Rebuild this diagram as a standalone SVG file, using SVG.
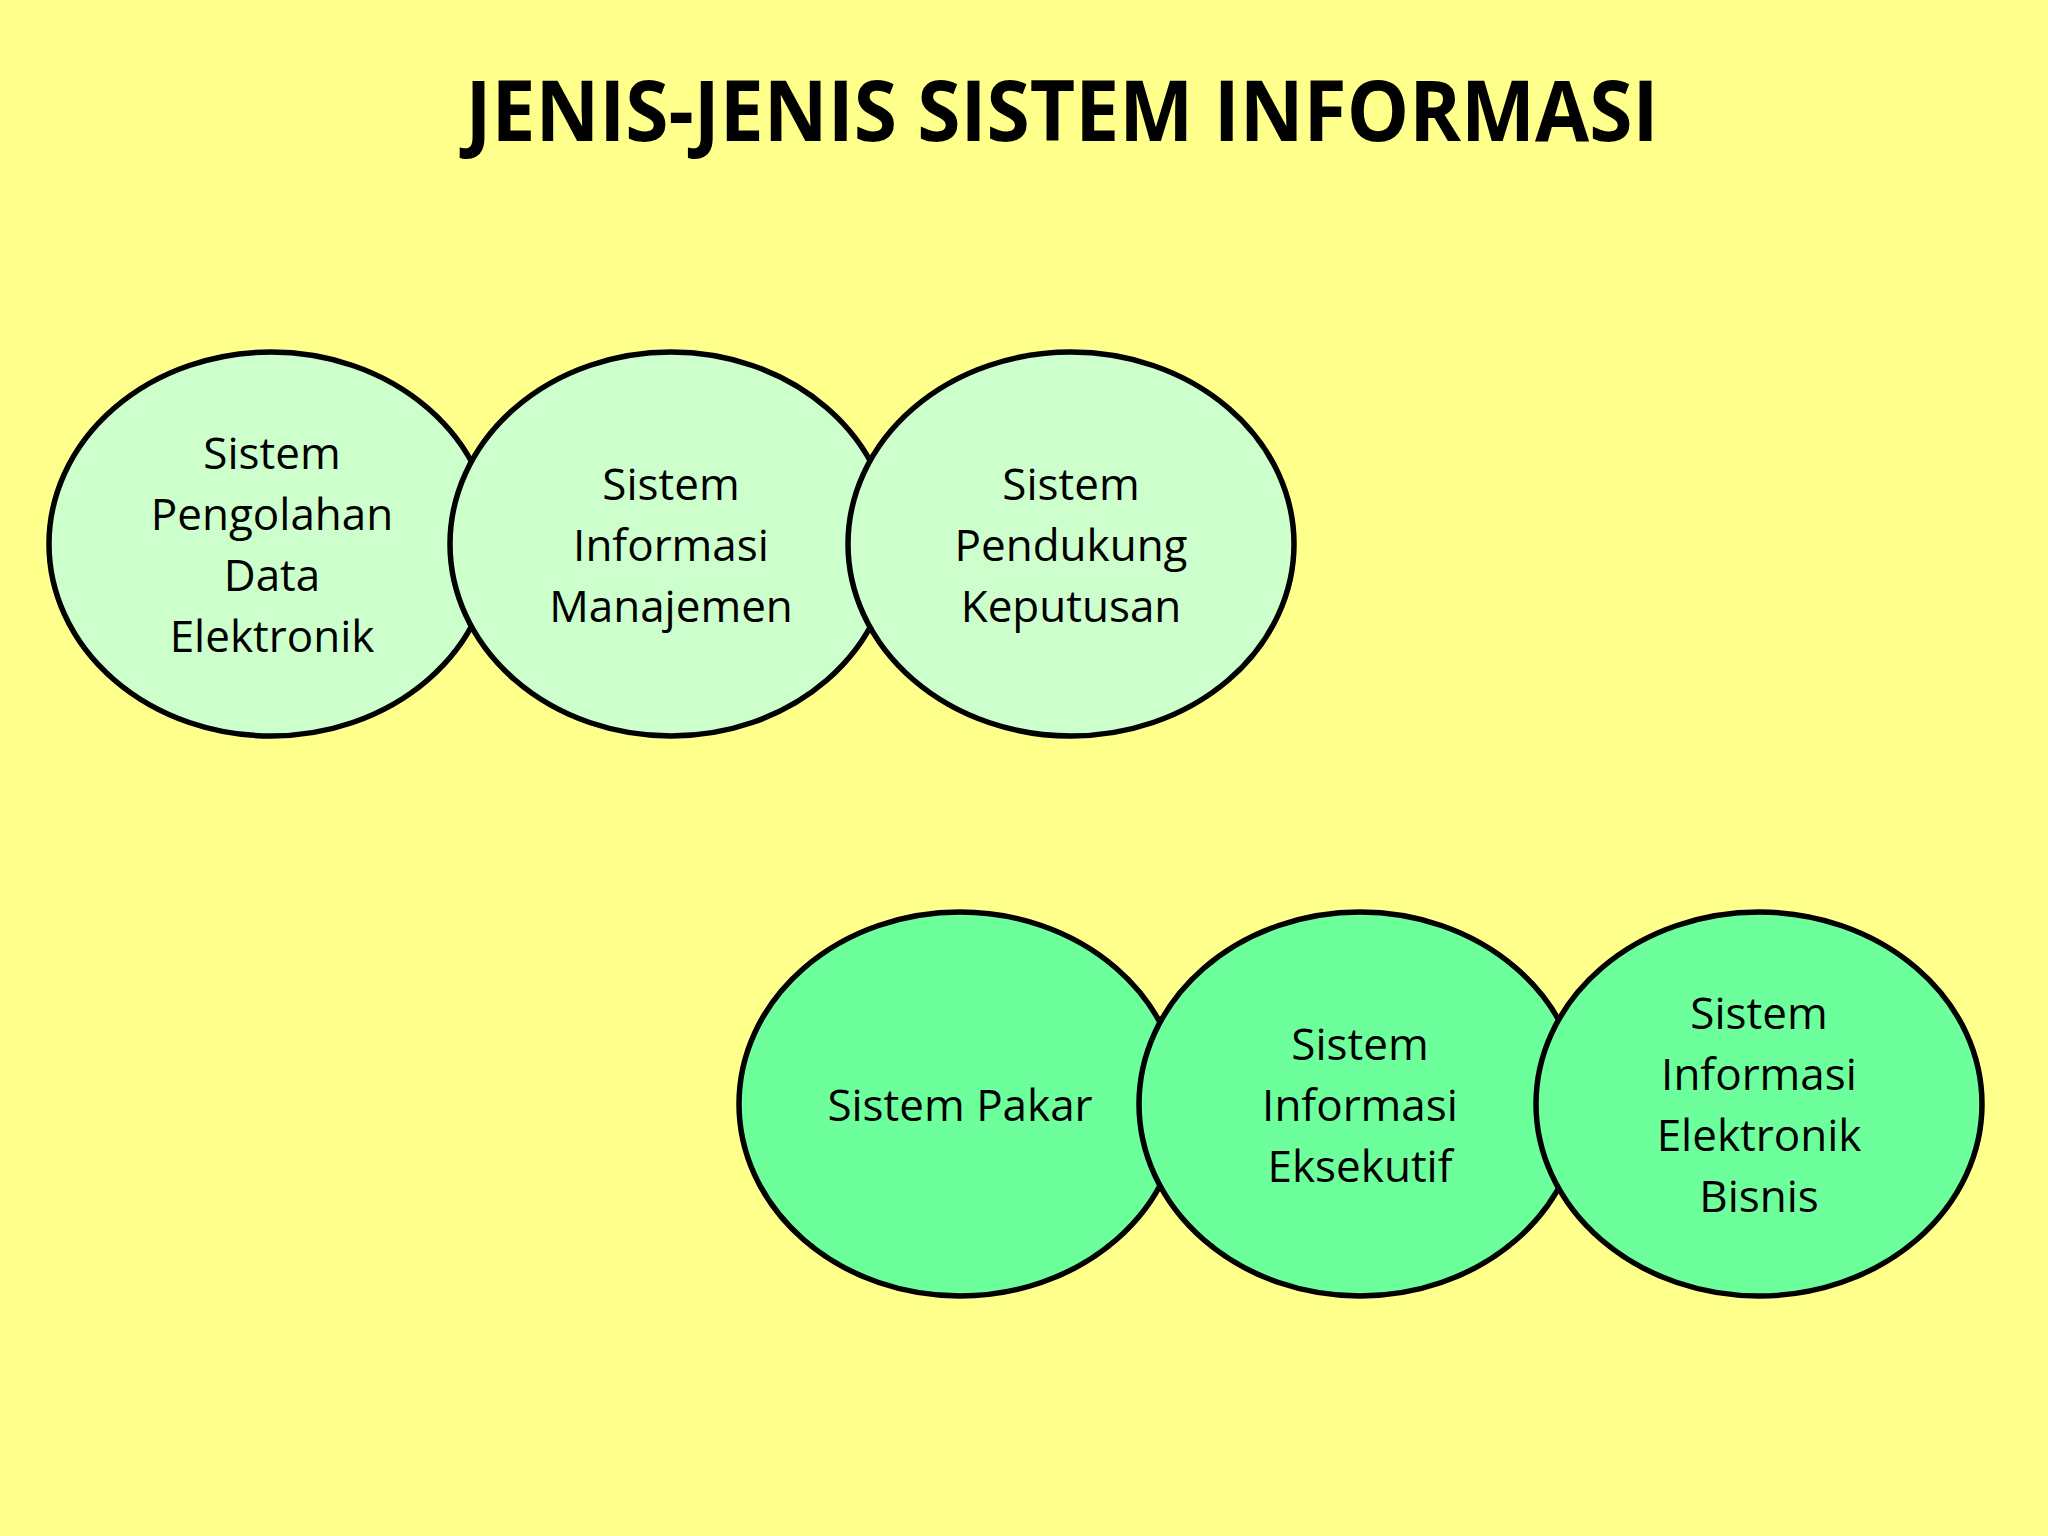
<svg xmlns="http://www.w3.org/2000/svg" width="2048" height="1536" viewBox="0 0 2048 1536">
<style>
.bg{fill:#FFFF8C}
.e{stroke:#000;stroke-width:5.5}
.top{fill:#CCFFCC}
.bot{fill:#6CFF9C}
.t{font-family:"Open Sans","Liberation Sans",sans-serif;font-size:44px;fill:#000;text-anchor:middle}
.title{font-family:"Open Sans","Liberation Sans",sans-serif;font-size:84px;font-weight:bold;fill:#000;text-anchor:middle}
</style>
<rect class="bg" x="0" y="0" width="2048" height="1536"/>
<text class="title" x="1062" y="141" textLength="1193" lengthAdjust="spacingAndGlyphs">JENIS-JENIS SISTEM INFORMASI</text>
<g id="connectors"/>
<g id="node-spde">
<ellipse class="e top" cx="271" cy="544" rx="222" ry="192"/>
<text class="t" x="272"><tspan x="272" y="469">Sistem</tspan><tspan x="272" y="530">Pengolahan</tspan><tspan x="272" y="591">Data</tspan><tspan x="272" y="652">Elektronik</tspan></text>
</g>
<g id="node-sim">
<ellipse class="e top" cx="671" cy="544" rx="221" ry="192"/>
<text class="t"><tspan x="671" y="500">Sistem</tspan><tspan x="671" y="561">Informasi</tspan><tspan x="671" y="622">Manajemen</tspan></text>
</g>
<g id="node-spk">
<ellipse class="e top" cx="1071" cy="544" rx="223" ry="192"/>
<text class="t"><tspan x="1071" y="500">Sistem</tspan><tspan x="1071" y="561">Pendukung</tspan><tspan x="1071" y="622">Keputusan</tspan></text>
</g>
<g id="node-sp">
<ellipse class="e bot" cx="960" cy="1104" rx="221" ry="192"/>
<text class="t"><tspan x="960" y="1121">Sistem Pakar</tspan></text>
</g>
<g id="node-sie">
<ellipse class="e bot" cx="1360" cy="1104" rx="221" ry="192"/>
<text class="t"><tspan x="1360" y="1060">Sistem</tspan><tspan x="1360" y="1121">Informasi</tspan><tspan x="1360" y="1182">Eksekutif</tspan></text>
</g>
<g id="node-sieb">
<ellipse class="e bot" cx="1759" cy="1104" rx="223" ry="192"/>
<text class="t"><tspan x="1759" y="1029">Sistem</tspan><tspan x="1759" y="1090">Informasi</tspan><tspan x="1759" y="1151">Elektronik</tspan><tspan x="1759" y="1212">Bisnis</tspan></text>
</g>
</svg>
